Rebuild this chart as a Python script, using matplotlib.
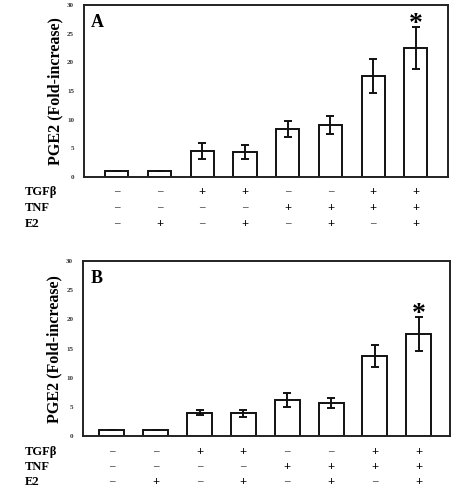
import numpy as np
import matplotlib
matplotlib.use('Agg')
import matplotlib.pyplot as plt
import matplotlib.transforms as mtransforms

plt.rcParams['font.family'] = ['Liberation Serif', 'DejaVu Serif']
plt.rcParams['font.weight'] = 'bold'

# Data (fold increase of PGE2)
mean_a = [1.0, 1.0, 4.5, 4.4, 8.3, 9.1, 17.6, 22.5]
err_a = [0.0, 0.0, 1.4, 1.2, 1.4, 1.6, 3.0, 3.6]
mean_b = [1.1, 1.0, 4.0, 3.9, 6.2, 5.7, 13.8, 17.5]
err_b = [0.0, 0.0, 0.4, 0.6, 1.2, 0.85, 1.9, 2.9]

conditions = ['TGF\u03b2', 'TNF', 'E2']
tgf = ['-', '-', '+', '+', '-', '-', '+', '+']
tnf = ['-', '-', '-', '-', '+', '+', '+', '+']
e2 = ['-', '+', '-', '+', '-', '+', '-', '+']
signs = [tgf, tnf, e2]

yticks = [0, 5, 10, 15, 20, 25, 30]

fig = plt.figure(figsize=(4.74, 4.90), dpi=100)


def draw_panel(rect, means, errs, letter, xlim, width, row_y):
    ax = fig.add_axes(rect)
    x = np.arange(len(means))
    ax.bar(x, means, width=width, color='white', edgecolor='#111111', linewidth=1.4)
    ax.errorbar(x, means, yerr=errs, fmt='none', ecolor='#111111',
                elinewidth=1.4, capsize=3, capthick=1.4)
    ax.set_xlim(*xlim)
    ax.set_ylim(0, 30)
    ax.set_yticks(yticks)
    ax.set_yticklabels([str(v) for v in yticks], fontsize=5, color='#333333')
    ax.tick_params(axis='y', length=0, pad=7)
    ax.set_xticks([])
    for s in ax.spines.values():
        s.set_linewidth(1.4)
        s.set_color('#222222')
    ax.set_ylabel('PGE2 (Fold-increase)', fontsize=11.5, fontweight='bold', labelpad=3)
    ax.text(0.02, 0.9, letter, transform=ax.transAxes, fontsize=13,
            fontweight='bold', ha='left', va='center')
    # star over last bar
    ax.annotate('*', xy=(x[-1], means[-1] + errs[-1]), xytext=(0, 2),
                textcoords='offset points', ha='center', va='center',
                fontsize=20, fontweight='bold')
    # condition table under the axis
    trans = mtransforms.blended_transform_factory(ax.transData, ax.transAxes)
    for name, row, yy in zip(conditions, signs, row_y):
        fig.text(0.053, ax.transAxes.transform((0, yy))[1] / fig.bbox.height, name,
                 fontsize=9, fontweight='bold', ha='left', va='center')
        for xi, s in zip(x, row):
            if s == '+':
                ax.text(xi, yy, '+', transform=trans, ha='center', va='center',
                        fontsize=9, fontweight='bold', clip_on=False)
            else:
                ax.text(xi, yy, '\u2013', transform=trans, ha='center', va='center',
                        fontsize=8, color='#444444', clip_on=False)
    return ax


draw_panel([0.177, 0.639, 0.768, 0.351], mean_a, err_a, 'A',
           (-0.77, 7.75), 0.54, [-0.087, -0.18, -0.273])
draw_panel([0.175, 0.110, 0.774, 0.357], mean_b, err_b, 'B',
           (-0.66, 7.71), 0.57, [-0.091, -0.177, -0.263])

plt.savefig('out.png', dpi=100)
